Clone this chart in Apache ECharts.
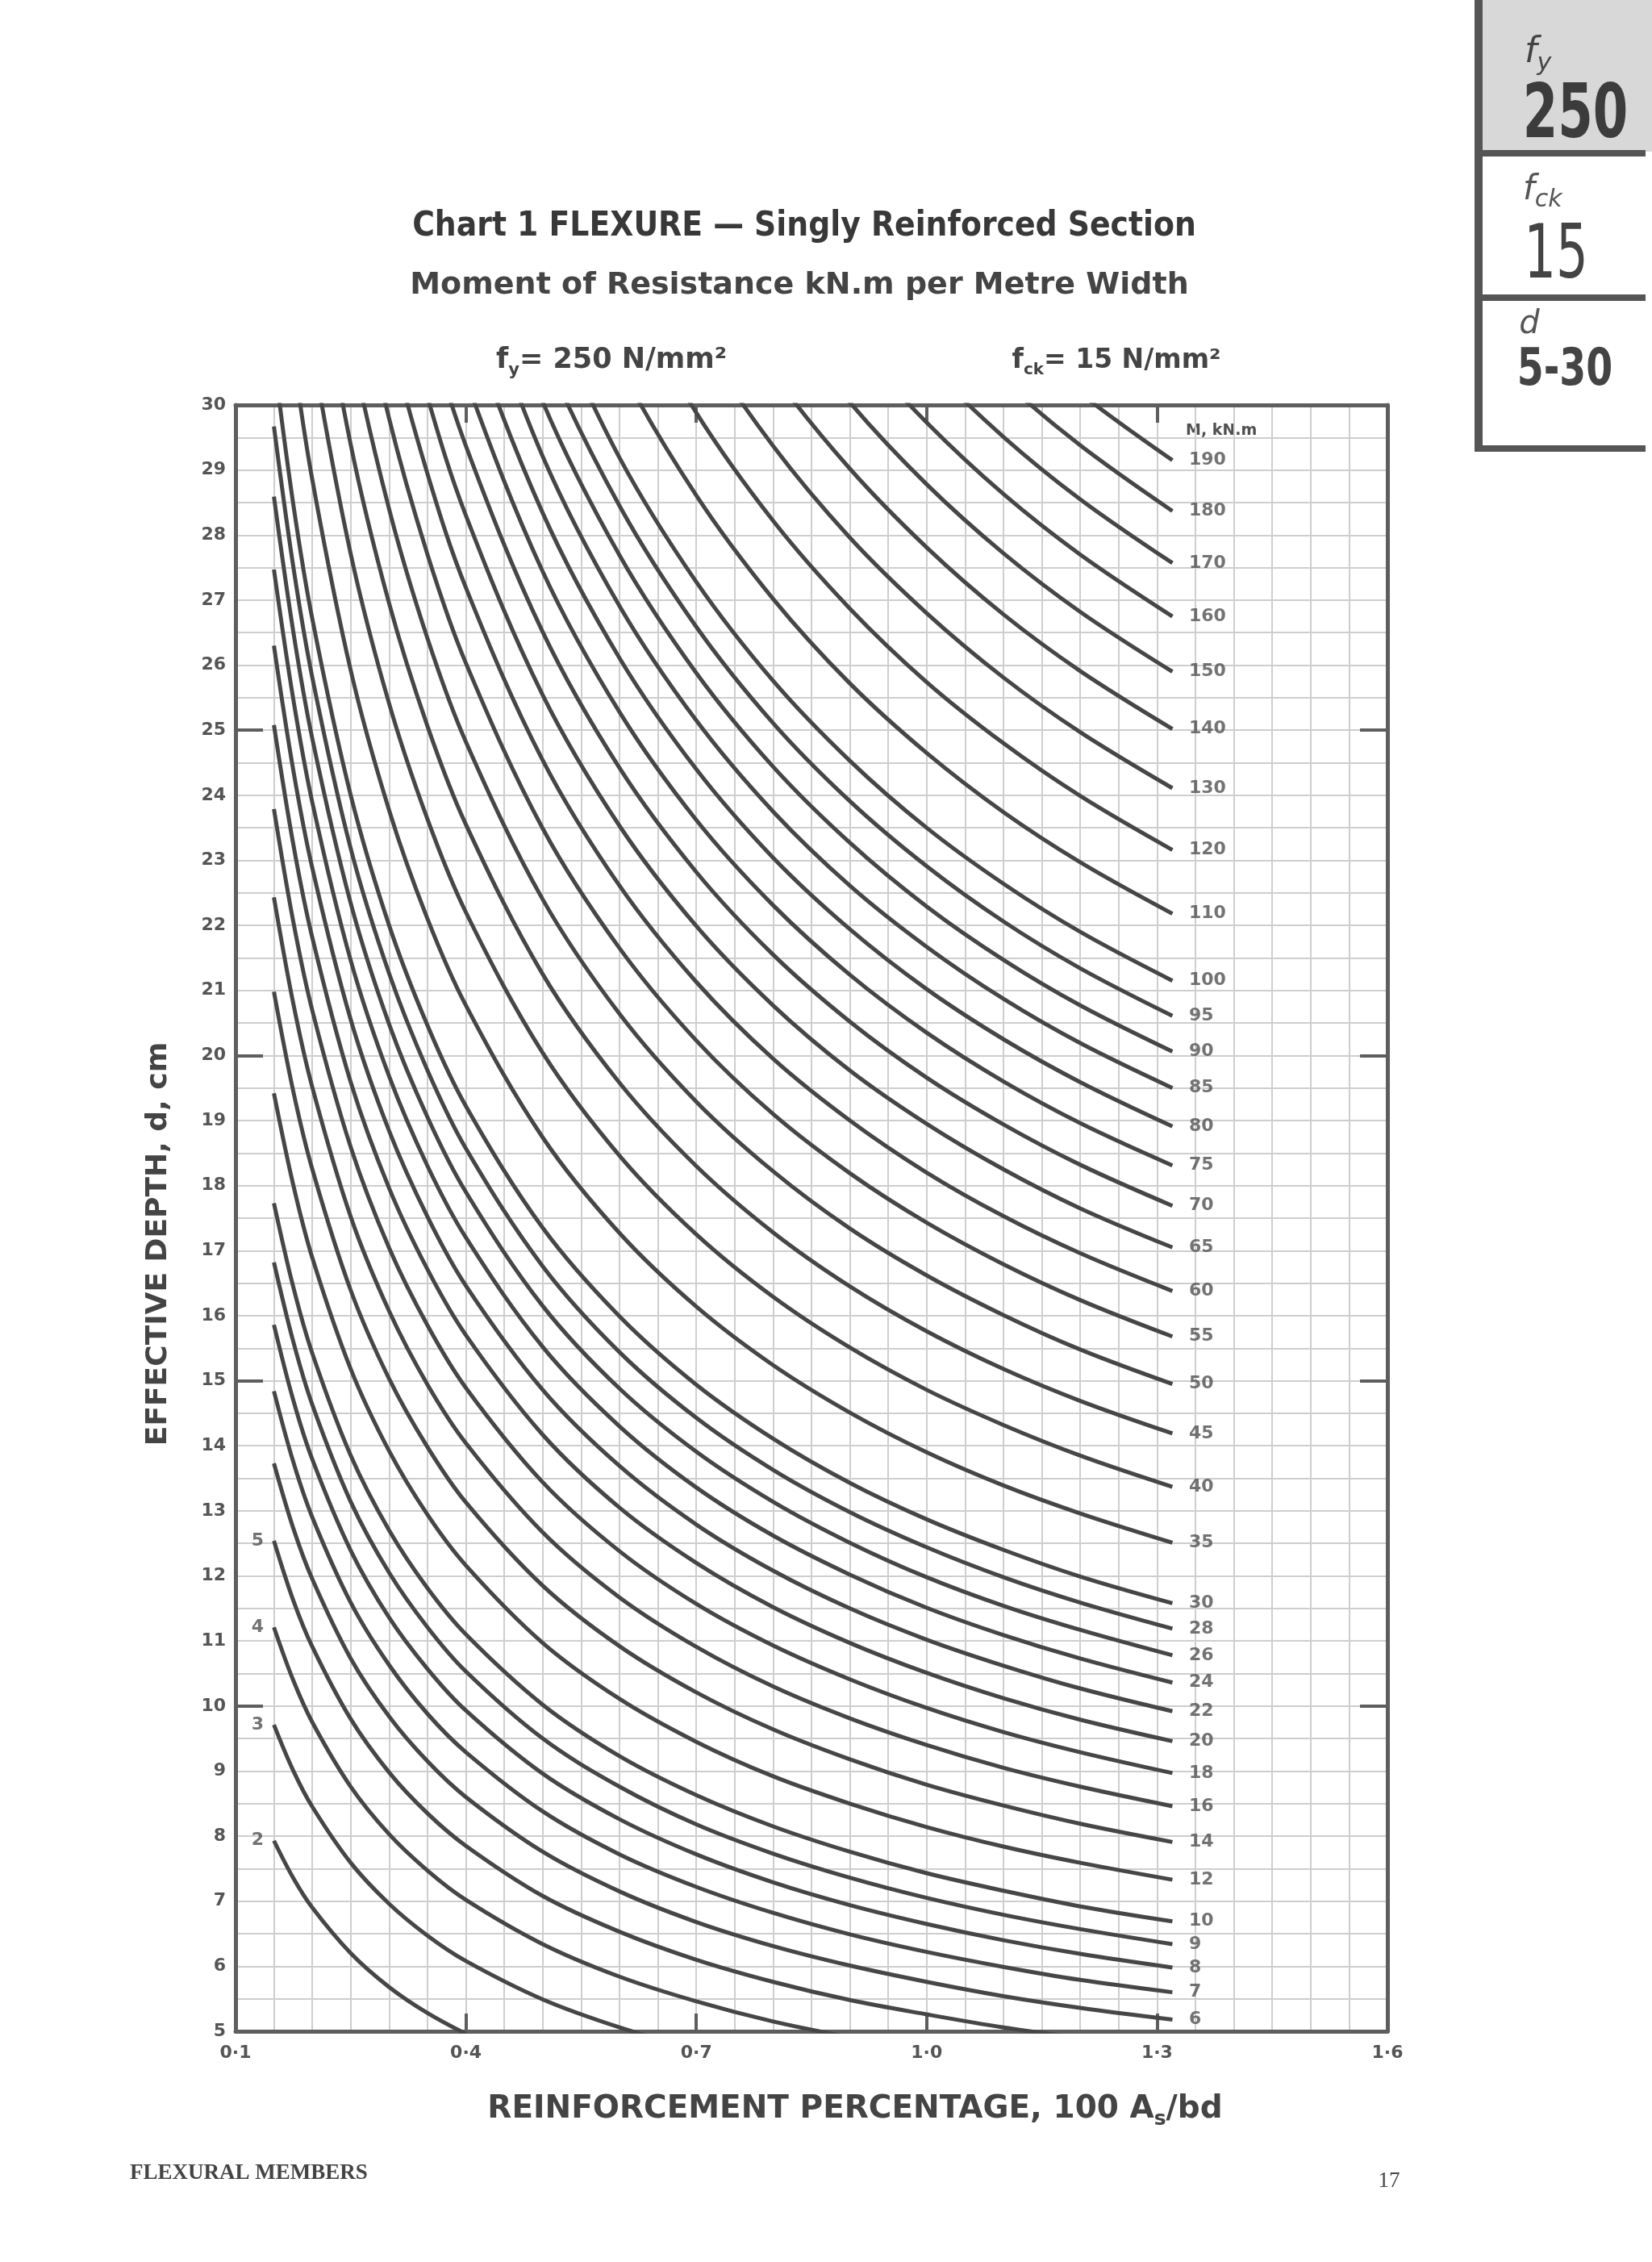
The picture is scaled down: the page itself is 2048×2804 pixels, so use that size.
<!DOCTYPE html>
<html>
<head>
<meta charset="utf-8">
<script src="https://cdn.jsdelivr.net/npm/echarts@6/dist/echarts.min.js"></script>
<style>
  html, body { margin: 0; padding: 0; background: #ffffff; }
  #chart { width: 2048px; height: 2804px; }
</style>
</head>
<body>
<div id="chart"></div>
<script>
// ---------------- DATA ----------------
// Reinforcement percentage (100 As/bd) at which depths were read
const pSamples = [0.15, 0.175, 0.2, 0.25, 0.3, 0.35, 0.4, 0.5, 0.6, 0.7, 0.8, 0.9, 1.0, 1.1, 1.2, 1.32];

// Effective depth d (cm) of each moment curve at pSamples (null = not read)
const dM2   = [7.93, 7.36, 6.90, 6.20, 5.68, 5.28, 4.96, null, null, null, null, null, null, null, null, null];
const dM3   = [9.71, 9.01, 8.45, 7.59, 6.96, 6.47, 6.08, 5.49, 5.06, 4.72, null, null, null, null, null, null];
const dM4   = [11.21, 10.40, 9.75, 8.76, 8.03, 7.47, 7.02, 6.34, 5.84, 5.46, 5.15, 4.91, null, null, null, null];
const dM5   = [12.54, 11.63, 10.91, 9.80, 8.98, 8.35, 7.85, 7.08, 6.53, 6.10, 5.76, 5.48, 5.26, 5.06, 4.90, null];
const dM6   = [13.73, 12.74, 11.95, 10.73, 9.84, 9.15, 8.60, 7.76, 7.15, 6.68, 6.31, 6.01, 5.76, 5.54, 5.36, 5.18];
const dM7   = [14.84, 13.76, 12.90, 11.59, 10.63, 9.88, 9.29, 8.38, 7.72, 7.22, 6.82, 6.49, 6.22, 5.99, 5.79, 5.60];
const dM8   = [15.86, 14.71, 13.79, 12.39, 11.36, 10.57, 9.93, 8.96, 8.26, 7.72, 7.29, 6.94, 6.65, 6.40, 6.19, 5.98];
const dM9   = [16.82, 15.61, 14.63, 13.14, 12.05, 11.21, 10.53, 9.50, 8.76, 8.18, 7.73, 7.36, 7.05, 6.79, 6.57, 6.34];
const dM10  = [17.73, 16.45, 15.42, 13.85, 12.70, 11.81, 11.10, 10.02, 9.23, 8.63, 8.15, 7.76, 7.43, 7.16, 6.92, 6.69];
const dM12  = [19.42, 18.02, 16.89, 15.18, 13.92, 12.94, 12.16, 10.97, 10.11, 9.45, 8.92, 8.50, 8.14, 7.84, 7.59, 7.33];
const dM14  = [20.98, 19.46, 18.25, 16.39, 15.03, 13.98, 13.13, 11.85, 10.92, 10.21, 9.64, 9.18, 8.79, 8.47, 8.19, 7.91];
const dM16  = [22.43, 20.81, 19.51, 17.52, 16.07, 14.94, 14.04, 12.67, 11.67, 10.91, 10.30, 9.81, 9.40, 9.05, 8.76, 8.46];
const dM18  = [23.79, 22.07, 20.69, 18.59, 17.04, 15.85, 14.89, 13.44, 12.38, 11.57, 10.93, 10.41, 9.97, 9.60, 9.29, 8.97];
const dM20  = [25.08, 23.26, 21.81, 19.59, 17.96, 16.71, 15.70, 14.17, 13.05, 12.20, 11.52, 10.97, 10.51, 10.12, 9.79, 9.46];
const dM22  = [26.30, 24.40, 22.88, 20.55, 18.84, 17.52, 16.46, 14.86, 13.69, 12.79, 12.08, 11.50, 11.02, 10.62, 10.27, 9.92];
const dM24  = [27.47, 25.49, 23.89, 21.46, 19.68, 18.30, 17.20, 15.52, 14.30, 13.36, 12.62, 12.02, 11.51, 11.09, 10.73, 10.36];
const dM26  = [28.59, 26.53, 24.87, 22.34, 20.48, 19.05, 17.90, 16.15, 14.88, 13.91, 13.14, 12.51, 11.98, 11.54, 11.17, 10.78];
const dM28  = [29.67, 27.53, 25.81, 23.18, 21.26, 19.77, 18.57, 16.76, 15.44, 14.43, 13.63, 12.98, 12.44, 11.98, 11.59, 11.19];
const dM30  = [30.71, 28.49, 26.71, 24.00, 22.00, 20.46, 19.22, 17.35, 15.99, 14.94, 14.11, 13.43, 12.87, 12.40, 11.99, 11.58];
const dM35  = [33.17, 30.78, 28.85, 25.92, 23.77, 22.10, 20.77, 18.74, 17.27, 16.14, 15.24, 14.51, 13.90, 13.39, 12.96, 12.51];
const dM40  = [null, 32.90, 30.84, 27.71, 25.41, 23.63, 22.20, 20.04, 18.46, 17.25, 16.29, 15.51, 14.86, 14.32, 13.85, 13.37];
const dM45  = [null, null, 32.72, 29.39, 26.95, 25.06, 23.55, 21.25, 19.58, 18.30, 17.28, 16.45, 15.76, 15.18, 14.69, 14.19];
const dM50  = [null, null, 34.49, 30.98, 28.40, 26.41, 24.82, 22.40, 20.64, 19.29, 18.22, 17.34, 16.62, 16.01, 15.48, 14.95];
const dM55  = [null, null, null, 32.49, 29.79, 27.70, 26.03, 23.49, 21.65, 20.23, 19.10, 18.19, 17.43, 16.79, 16.24, 15.68];
const dM60  = [null, null, null, 33.94, 31.12, 28.94, 27.19, 24.54, 22.61, 21.13, 19.95, 19.00, 18.20, 17.53, 16.96, 16.38];
const dM65  = [null, null, null, null, 32.39, 30.12, 28.30, 25.54, 23.53, 21.99, 20.77, 19.77, 18.95, 18.25, 17.65, 17.05];
const dM70  = [null, null, null, null, 33.61, 31.25, 29.37, 26.51, 24.42, 22.82, 21.55, 20.52, 19.66, 18.94, 18.32, 17.69];
const dM75  = [null, null, null, null, null, 32.35, 30.40, 27.44, 25.28, 23.62, 22.31, 21.24, 20.35, 19.60, 18.96, 18.31];
const dM80  = [null, null, null, null, null, 33.41, 31.39, 28.34, 26.11, 24.40, 23.04, 21.94, 21.02, 20.25, 19.59, 18.91];
const dM85  = [null, null, null, null, null, null, 32.36, 29.21, 26.91, 25.15, 23.75, 22.61, 21.67, 20.87, 20.19, 19.50];
const dM90  = [null, null, null, null, null, null, 33.30, 30.05, 27.69, 25.88, 24.44, 23.27, 22.29, 21.47, 20.77, 20.06];
const dM95  = [null, null, null, null, null, null, 34.21, 30.88, 28.45, 26.59, 25.11, 23.91, 22.91, 22.06, 21.34, 20.61];
const dM100 = [null, null, null, null, null, null, null, 31.68, 29.19, 27.28, 25.76, 24.53, 23.50, 22.64, 21.90, 21.15];
const dM110 = [null, null, null, null, null, null, null, 33.23, 30.61, 28.61, 27.02, 25.72, 24.65, 23.74, 22.97, 22.18];
const dM120 = [null, null, null, null, null, null, null, 34.70, 31.97, 29.88, 28.22, 26.87, 25.74, 24.80, 23.99, 23.16];
const dM130 = [null, null, null, null, null, null, null, null, 33.28, 31.10, 29.37, 27.96, 26.80, 25.81, 24.97, 24.11];
const dM140 = [null, null, null, null, null, null, null, null, null, 32.27, 30.48, 29.02, 27.81, 26.78, 25.91, 25.02];
const dM150 = [null, null, null, null, null, null, null, null, null, 33.41, 31.55, 30.04, 28.78, 27.72, 26.82, 25.90];
const dM160 = [null, null, null, null, null, null, null, null, null, null, 32.58, 31.02, 29.73, 28.63, 27.70, 26.75];
const dM170 = [null, null, null, null, null, null, null, null, null, null, null, 31.98, 30.64, 29.51, 28.55, 27.57];
const dM180 = [null, null, null, null, null, null, null, null, null, null, null, null, 31.53, 30.37, 29.38, 28.37];
const dM190 = [null, null, null, null, null, null, null, null, null, null, null, null, null, 31.20, 30.18, 29.15];

// Moment of resistance (kN.m per metre width) of each curve
const momentValues = [2, 3, 4, 5, 6, 7, 8, 9, 10, 12, 14, 16, 18, 20, 22, 24, 26, 28, 30,
  35, 40, 45, 50, 55, 60, 65, 70, 75, 80, 85, 90, 95, 100, 110, 120, 130, 140, 150, 160, 170, 180, 190];
const depthRows = [dM2, dM3, dM4, dM5, dM6, dM7, dM8, dM9, dM10, dM12, dM14, dM16, dM18, dM20, dM22,
  dM24, dM26, dM28, dM30, dM35, dM40, dM45, dM50, dM55, dM60, dM65, dM70, dM75, dM80, dM85, dM90,
  dM95, dM100, dM110, dM120, dM130, dM140, dM150, dM160, dM170, dM180, dM190];
// Curves labelled at their left (start) end; all others labelled at the right end
const leftLabelMoments = [2, 3, 4, 5];

// Axis ranges / tick labels
const xRange = [0.1, 1.6];
const xLabelValues = [0.1, 0.4, 0.7, 1.0, 1.3, 1.6];
const yRange = [5, 30];

// ---------------- CHART ----------------
const COND = '"DejaVu Sans Condensed", "Liberation Sans Narrow", sans-serif';
const SANS = '"DejaVu Sans", sans-serif';
const SERIF = '"Liberation Serif", "DejaVu Serif", serif';
const INK = '#444444';
const CURVE = '#464646';
const BORDER = '#5e5e5e';
const GRIDC = '#cecece';

const series = [];
const rightLabels = [];
const leftLabels = [];
momentValues.forEach((m, i) => {
  const row = depthRows[i];
  const pts = [];
  row.forEach((d, j) => { if (d !== null) pts.push([pSamples[j], d]); });
  series.push({
    type: 'line', name: 'M' + m, data: pts,
    symbol: 'none', showSymbol: false,
    smooth: 0.35,
    lineStyle: { color: CURVE, width: 5 },
    clip: true, silent: true, z: 3
  });
  if (leftLabelMoments.indexOf(m) >= 0) {
    leftLabels.push([pts[0][0], pts[0][1], m]);
  } else {
    const last = pts[pts.length - 1];
    rightLabels.push([last[0], last[1], m]);
  }
});

const labelText = { fontFamily: SANS, fontWeight: 'bold', fontSize: 22, color: '#505050' };
series.push({
  type: 'scatter', name: 'rightLabels', data: rightLabels, symbolSize: 1,
  itemStyle: { color: 'transparent' }, silent: true, z: 4,
  label: Object.assign({ show: true, position: 'right', distance: 20, formatter: p => String(p.value[2]) }, labelText)
});
series.push({
  type: 'scatter', name: 'leftLabels', data: leftLabels, symbolSize: 1,
  itemStyle: { color: 'transparent' }, silent: true, z: 4,
  label: Object.assign({ show: true, position: 'left', distance: 12, formatter: p => String(p.value[2]) }, labelText)
});

function isXLabel(v) {
  return xLabelValues.some(t => Math.abs(t - v) < 1e-6);
}

const helperX = (pos) => ({
  type: 'value', min: 0, max: xRange[1] - xRange[0], interval: 0.3, position: pos,
  axisLine: { show: true, onZero: false, lineStyle: { color: BORDER, width: 5 } },
  axisTick: { show: true, inside: true, length: 22, lineStyle: { color: BORDER, width: 4 } },
  axisLabel: { show: false }, splitLine: { show: false }
});
const helperY = (pos) => ({
  type: 'value', min: yRange[0], max: yRange[1], interval: 5, position: pos,
  axisLine: { show: true, onZero: false, lineStyle: { color: BORDER, width: 5 } },
  axisTick: { show: true, inside: true, length: 34, lineStyle: { color: BORDER, width: 4 } },
  axisLabel: { show: false }, splitLine: { show: false }
});

const option = {
  backgroundColor: '#ffffff',
  animation: false,
  grid: { left: 292, top: 502, width: 1428, height: 2016, containLabel: false },
  xAxis: [
    {
      type: 'value', min: xRange[0], max: xRange[1], interval: 0.05, position: 'bottom',
      axisLine: { show: false }, axisTick: { show: false },
      splitLine: { show: true, lineStyle: { color: GRIDC, width: 2 } },
      axisLabel: {
        show: true, margin: 16, fontFamily: SANS, fontWeight: 'bold', fontSize: 22, color: '#555',
        formatter: v => isXLabel(v) ? v.toFixed(1).replace('.', '·') : ''
      }
    },
    helperX('bottom'),
    helperX('top')
  ],
  yAxis: [
    {
      type: 'value', min: yRange[0], max: yRange[1], interval: 0.5, position: 'left',
      axisLine: { show: false }, axisTick: { show: false },
      splitLine: { show: true, lineStyle: { color: GRIDC, width: 2 } },
      axisLabel: {
        show: true, margin: 12, fontFamily: SANS, fontWeight: 'bold', fontSize: 22, color: '#555',
        formatter: v => Math.abs(v - Math.round(v)) < 1e-6 ? String(Math.round(v)) : ''
      }
    },
    helperY('left'),
    helperY('right')
  ],
  series: series,
  graphic: [
    // Title block
    { type: 'text', x: 997, y: 281, style: { text: 'Chart 1 FLEXURE — Singly Reinforced Section', fontFamily: COND, fontWeight: 'bold', fontSize: 42, fill: '#383838', textAlign: 'center', textVerticalAlign: 'middle' } },
    { type: 'text', x: 991, y: 354, style: { text: 'Moment of Resistance kN.m per Metre Width', fontFamily: SANS, fontWeight: 'bold', fontSize: 38, fill: INK, textAlign: 'center', textVerticalAlign: 'middle' } },
    { type: 'text', x: 758, y: 447, style: {
        text: '{a|f}{s|y}{a|= 250 N/mm²}', textAlign: 'center', textVerticalAlign: 'middle',
        rich: {
          a: { fontFamily: SANS, fontWeight: 'bold', fontSize: 35, fill: INK, lineHeight: 46 },
          s: { fontFamily: SANS, fontWeight: 'bold', fontSize: 21, fill: INK, lineHeight: 16, verticalAlign: 'bottom' }
        } } },
    { type: 'text', x: 1384, y: 447, style: {
        text: '{a|f}{s|ck}{a|= 15 N/mm²}', textAlign: 'center', textVerticalAlign: 'middle',
        rich: {
          a: { fontFamily: SANS, fontWeight: 'bold', fontSize: 33, fill: INK, lineHeight: 44 },
          s: { fontFamily: SANS, fontWeight: 'bold', fontSize: 20, fill: INK, lineHeight: 16, verticalAlign: 'bottom' }
        } } },
    // Axis names
    { type: 'text', x: 197, y: 1542, rotation: Math.PI / 2, style: { text: 'EFFECTIVE DEPTH, d, cm', fontFamily: SANS, fontWeight: 'bold', fontSize: 36, fill: INK, textAlign: 'center', textVerticalAlign: 'middle' } },
    { type: 'text', x: 1060, y: 2615, style: {
        text: '{a|REINFORCEMENT PERCENTAGE, 100 A}{s|s}{a|/bd}', textAlign: 'center', textVerticalAlign: 'middle',
        rich: {
          a: { fontFamily: SANS, fontWeight: 'bold', fontSize: 39, fill: INK, lineHeight: 50 },
          s: { fontFamily: SANS, fontWeight: 'bold', fontSize: 25, fill: INK, lineHeight: 18, verticalAlign: 'bottom' }
        } } },
    // Unit header for curve labels
    { type: 'text', x: 1470, y: 534, style: { text: 'M, kN.m', fontFamily: SANS, fontWeight: 'bold', fontSize: 19, fill: '#505050', textAlign: 'left', textVerticalAlign: 'middle' } },
    // Footer
    { type: 'text', x: 161, y: 2694, style: { text: 'FLEXURAL MEMBERS', fontFamily: SERIF, fontWeight: 'bold', fontSize: 27, fill: '#444', textAlign: 'left', textVerticalAlign: 'middle' } },
    { type: 'text', x: 1722, y: 2704, style: { text: '17', fontFamily: SERIF, fontSize: 27, fill: '#444', textAlign: 'center', textVerticalAlign: 'middle' } },
    // Side tab (fy / fck / d)
    { type: 'rect', shape: { x: 1836, y: 0, width: 212, height: 188 }, style: { fill: '#d8d8d8' } },
    { type: 'line', shape: { x1: 1833, y1: 0, x2: 1833, y2: 560 }, style: { stroke: '#555', lineWidth: 10 } },
    { type: 'line', shape: { x1: 1828, y1: 190, x2: 2040, y2: 190 }, style: { stroke: '#555', lineWidth: 8 } },
    { type: 'line', shape: { x1: 1828, y1: 369, x2: 2040, y2: 369 }, style: { stroke: '#555', lineWidth: 8 } },
    { type: 'line', shape: { x1: 1828, y1: 556, x2: 2040, y2: 556 }, style: { stroke: '#555', lineWidth: 8 } },
    { type: 'text', x: 1890, y: 66, style: {
        text: '{a|f}{s|y}', textAlign: 'left', textVerticalAlign: 'middle',
        rich: {
          a: { fontFamily: SANS, fontStyle: 'italic', fontSize: 44, fill: '#444', lineHeight: 56 },
          s: { fontFamily: SANS, fontStyle: 'italic', fontSize: 30, fill: '#444', lineHeight: 24, verticalAlign: 'bottom' }
        } } },
    { type: 'text', x: 1953, y: 146, scaleX: 0.68, style: { text: '250', fontFamily: SANS, fontWeight: 'bold', fontSize: 92, fill: '#3c3c3c', textAlign: 'center', textVerticalAlign: 'middle' } },
    { type: 'text', x: 1888, y: 236, style: {
        text: '{a|f}{s|ck}', textAlign: 'left', textVerticalAlign: 'middle',
        rich: {
          a: { fontFamily: SANS, fontStyle: 'italic', fontSize: 42, fill: '#555', lineHeight: 54 },
          s: { fontFamily: SANS, fontStyle: 'italic', fontSize: 30, fill: '#555', lineHeight: 24, verticalAlign: 'bottom' }
        } } },
    { type: 'text', x: 1929, y: 320, scaleX: 0.68, style: { text: '15', fontFamily: SANS, fontSize: 92, fill: '#444', textAlign: 'center', textVerticalAlign: 'middle' } },
    { type: 'text', x: 1896, y: 403, style: { text: 'd', fontFamily: SANS, fontStyle: 'italic', fontSize: 40, fill: '#555', textAlign: 'center', textVerticalAlign: 'middle' } },
    { type: 'text', x: 1940, y: 460, scaleX: 0.74, style: { text: '5-30', fontFamily: SANS, fontWeight: 'bold', fontSize: 64, fill: '#444', textAlign: 'center', textVerticalAlign: 'middle' } }
  ]
};

const chart = echarts.init(document.getElementById('chart'), null, { renderer: 'canvas', width: 2048, height: 2804 });
chart.setOption(option);
</script>
</body>
</html>
